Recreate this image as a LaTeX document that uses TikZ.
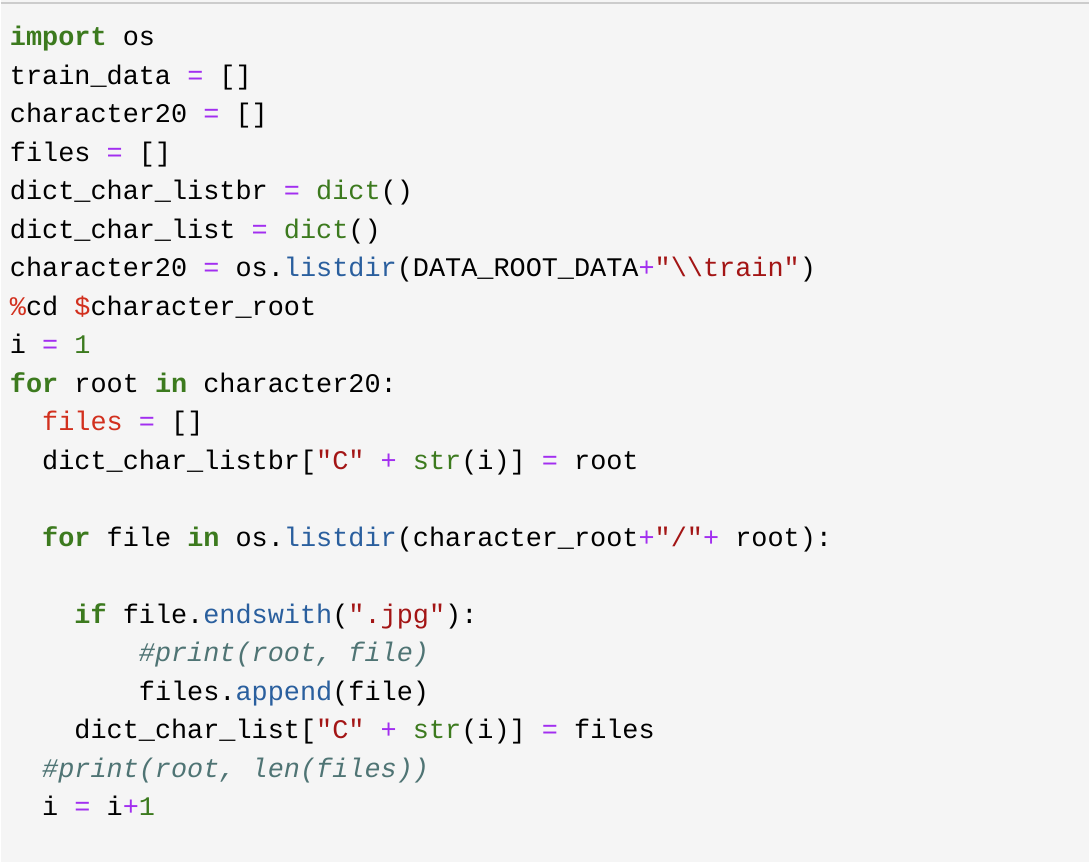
\documentclass[tikz,border=0pt]{standalone}
\usepackage{fontspec}
\newfontfamily\code{Liberation Mono}
\definecolor{bg}{HTML}{F5F5F5}
\definecolor{kwc}{HTML}{3C7A1E}
\definecolor{opc}{HTML}{A22EF0}
\definecolor{stc}{HTML}{A31515}
\definecolor{fnc}{HTML}{2A5F9E}
\definecolor{cmc}{HTML}{4F7474}
\definecolor{rdc}{HTML}{D2301E}
\newcommand\kw[1]{\textcolor{kwc}{\textbf{#1}}}
\newcommand\op[1]{\textcolor{opc}{#1}}
\newcommand\stt[1]{\textcolor{stc}{#1}}
\newcommand\nm[1]{\textcolor{kwc}{#1}}
\newcommand\fn[1]{\textcolor{fnc}{#1}}
\newcommand\cmt[1]{\textcolor{cmc}{\textit{#1}}}
\newcommand\rd[1]{\textcolor{rdc}{#1}}
\begin{document}
\begin{tikzpicture}[x=1bp,y=-1bp,every node/.style={anchor=base west,inner sep=0pt,font=\code\fontsize{27}{27}\selectfont,text=black}]
\fill[bg] (0,0) rectangle (1090,863);
\draw[gray!40,line width=1.5bp] (0,3) -- (1090,3);
\def\L#1#2#3{\node (l#1) at (9,{37+38.55*(#1-1)+9}) {\hphantom{#2}#3};}
\L{1}{}{\kw{import} os}
\L{2}{}{train\_data \op{=} []}
\L{3}{}{character20 \op{=} []}
\L{4}{}{files \op{=} []}
\L{5}{}{dict\_char\_listbr \op{=} \nm{dict}()}
\L{6}{}{dict\_char\_list \op{=} \nm{dict}()}
\L{7}{}{character20 \op{=} os.\fn{listdir}(DATA\_ROOT\_DATA\op{+}\stt{"\textbackslash\textbackslash train"})}
\L{8}{}{\rd{\%}cd \rd{\$}character\_root}
\L{9}{}{i \op{=} \nm{1}}
\L{10}{}{\kw{for} root \kw{in} character20:}
\L{11}{xx}{\rd{files} \op{=} []}
\L{12}{xx}{dict\_char\_listbr[\stt{"C"} \op{+} \nm{str}(i)] \op{=} root}
\L{14}{xx}{\kw{for} file \kw{in} os.\fn{listdir}(character\_root\op{+}\stt{"/"}\op{+} root):}
\L{16}{xxxx}{\kw{if} file.\fn{endswith}(\stt{".jpg"}):}
\L{17}{xxxxxxxx}{\cmt{\#print(root, file)}}
\L{18}{xxxxxxxx}{files.\fn{append}(file)}
\L{19}{xxxx}{dict\_char\_list[\stt{"C"} \op{+} \nm{str}(i)] \op{=} files}
\L{20}{xx}{\cmt{\#print(root, len(files))}}
\L{21}{xx}{i \op{=} i\op{+}\nm{1}}
\end{tikzpicture}
\end{document}
